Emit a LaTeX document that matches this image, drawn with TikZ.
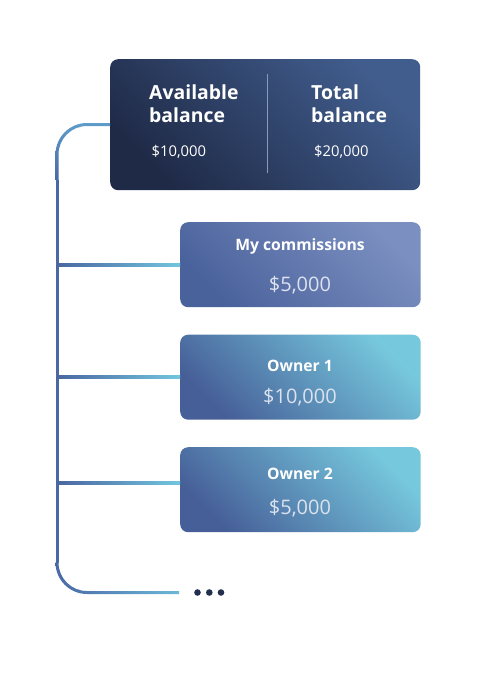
\documentclass[tikz,border=0pt]{standalone}
\usepackage{fontspec}
\setmainfont{Open Sans}
\usetikzlibrary{calc}
\definecolor{topA}{HTML}{1F2A47}
\definecolor{topB}{HTML}{415D8D}
\definecolor{comA}{HTML}{4A629C}
\definecolor{comB}{HTML}{7B8FC0}
\definecolor{ownA}{HTML}{465F98}
\definecolor{ownB}{HTML}{76C8DD}
\definecolor{trunkc}{HTML}{4A68A6}
\definecolor{lineA}{HTML}{4A66A2}
\definecolor{lineB}{HTML}{72C6DE}
\definecolor{curveTop}{HTML}{5E9CC9}
\definecolor{dotc}{HTML}{22304E}
\definecolor{amt}{HTML}{DCE2EE}
\definecolor{divc}{HTML}{8C9AB5}
\begin{document}
\begin{tikzpicture}[x=1pt,y=-1pt,
  card/.style={rounded corners=8pt, minimum width=240.5pt, minimum height=85pt,
    anchor=north west, inner sep=0pt, shading angle=-45},
  comcard/.style={card, top color=comB, bottom color=comA, shading angle=-45},
  owncard/.style={card, top color=ownB, bottom color=ownA, shading angle=-45},
  head/.style={text=white, font=\bfseries\fontsize{19.4}{23}\selectfont, inner sep=0pt, anchor=base west},
  topamt/.style={text=white, font=\fontsize{14.8}{17}\selectfont, inner sep=0pt, anchor=base west},
  title/.style={text=white, font=\bfseries\fontsize{15.7}{18}\selectfont, inner sep=0pt, anchor=base},
  amount/.style={text=amt, font=\fontsize{20}{24}\selectfont, inner sep=0pt, anchor=base},
  branch/.style={left color=lineA, right color=lineB},
  dot/.style={circle, fill=dotc, inner sep=0pt, minimum size=6.6pt}]
\useasboundingbox (0,0) rectangle (497,675);

% top summary card
\node[rounded corners=8pt, minimum width=310pt, minimum height=131pt, anchor=north west,
  inner sep=0pt, top color=topB, bottom color=topA, shading angle=-45] (top) at (110,59) {};
\coordinate (dv1) at (267,74);
\coordinate (dv2) at (267,173);
\draw[divc, line width=1pt] (dv1) -- (dv2);
\node[head] (av1) at (149,99) {Available};
\node[head] (av2) at (149,122) {balance};
\node[topamt] (ava) at (151.5,156) {\$10,000};
\node[head] (tt1) at (311,99) {Total};
\node[head] (tt2) at (311,122) {balance};
\node[topamt] (tta) at (314,156) {\$20,000};

% cards
\node[comcard] (b2) at (180,222) {};
\node[title] (b2t) at (300,250.5) {My commissions};
\node[amount] (b2a) at (300,291) {\$5,000};

\node[owncard] (b3) at (180,334.5) {};
\node[title] (b3t) at (300,371.5) {Owner 1};
\node[amount] (b3a) at (300,403.5) {\$10,000};

\node[owncard] (b4) at (180,447) {};
\node[title] (b4t) at (300,479) {Owner 2};
\node[amount] (b4a) at (300,514) {\$5,000};

% trunk
\coordinate (tk) at (57,0);
\shade[top color=curveTop, bottom color=trunkc]
  (top.west |- 0,123) -- (87,123) arc[start angle=-90, end angle=-180, radius=31.5]
  -- (55.5,180) -- (58.5,180) -- (58.5,154.5)
  arc[start angle=-180, end angle=-90, radius=28.5] -- (top.west |- 0,126) -- cycle;
\fill[trunkc] (55.5,179.5) rectangle (58.5,563);
\coordinate (endc) at (179,592.5);
\shade[left color=trunkc, right color=lineB!85!trunkc]
  (55.5,562) -- (55.5,562.5) arc[start angle=180, end angle=90, radius=31.5]
  -- ($(endc)+(0,1.5)$) -- ($(endc)+(0,-1.5)$) -- (87,591)
  arc[start angle=90, end angle=180, radius=28.5] -- (58.5,562) -- cycle;

% branches
\shade[branch] ($(b2.west -| tk)+(0,-1.5)$) rectangle ($(b2.west)+(0,1.5)$);
\shade[branch] ($(b3.west -| tk)+(0,-1.5)$) rectangle ($(b3.west)+(0,1.5)$);
\coordinate (b4c) at ([yshift=6.3pt]b4.west);
\shade[branch] ($(b4c -| tk)+(0,-1.5)$) rectangle ($(b4c)+(0,1.5)$);

% dots
\node[dot] (d1) at (197.5,592.5) {};
\node[dot] (d2) at (209.3,592.5) {};
\node[dot] (d3) at (221,592.5) {};
\end{tikzpicture}
\end{document}
